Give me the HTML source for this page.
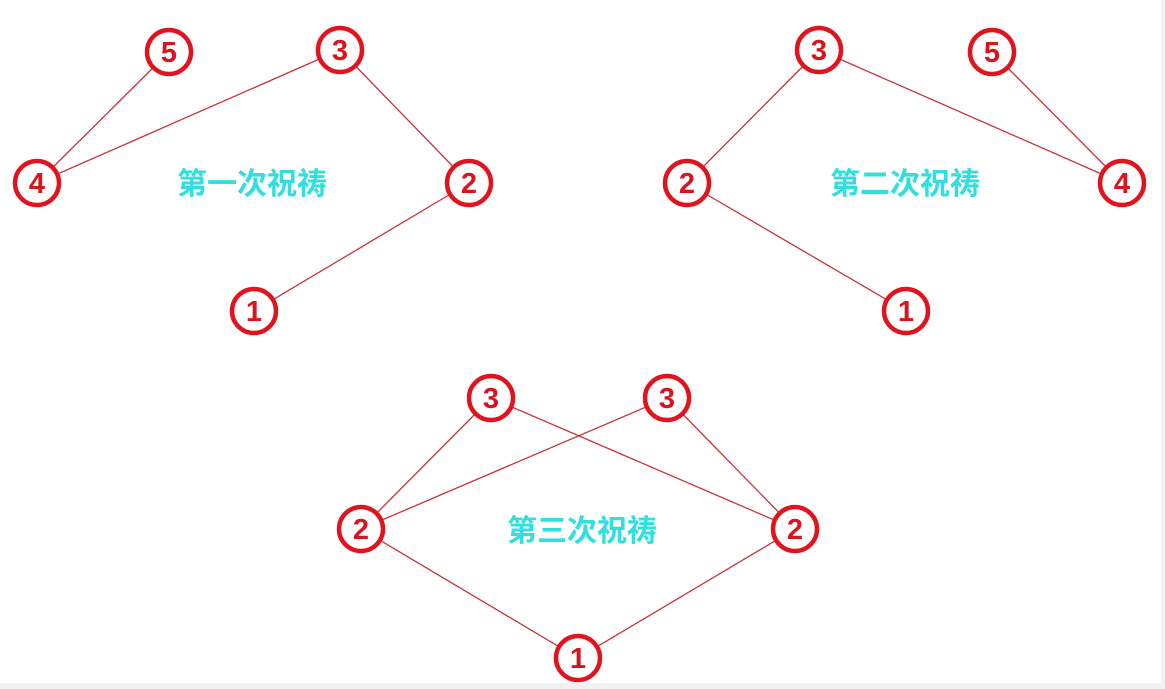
<!DOCTYPE html>
<html><head><meta charset="utf-8"><style>
html,body{margin:0;padding:0;background:#fff;}
svg{display:block;}
text{font-family:"Liberation Sans","Noto Sans CJK SC",sans-serif;font-weight:bold;}
</style></head><body>
<svg width="1165" height="689" viewBox="0 0 1165 689" xmlns="http://www.w3.org/2000/svg">
<rect x="0" y="0" width="1165" height="689" fill="#fff"/>
<rect x="1161" y="0" width="4" height="689" fill="#f2f2f2"/>
<rect x="0" y="683" width="1165" height="6" fill="#f2f2f2"/>
<g stroke="#c8323a" stroke-width="1.3">
<line x1="169" y1="52" x2="37" y2="183"/>
<line x1="340" y1="50" x2="37" y2="183"/>
<line x1="340" y1="50" x2="469" y2="183"/>
<line x1="469" y1="183" x2="254" y2="311"/>
<line x1="819" y1="50" x2="687" y2="183"/>
<line x1="819" y1="50" x2="1122" y2="183"/>
<line x1="992" y1="52" x2="1122" y2="183"/>
<line x1="687" y1="183" x2="906" y2="311"/>
<line x1="491" y1="398" x2="361" y2="529"/>
<line x1="491" y1="398" x2="795" y2="529"/>
<line x1="667" y1="398" x2="361" y2="529"/>
<line x1="667" y1="398" x2="795" y2="529"/>
<line x1="361" y1="529" x2="578" y2="658"/>
<line x1="795" y1="529" x2="578" y2="658"/>
</g>
<g fill="#fff" stroke="#e0141e" stroke-width="4.5">
<circle cx="169" cy="52" r="22"/><circle cx="340" cy="50" r="22"/><circle cx="37" cy="183" r="22"/><circle cx="469" cy="183" r="22"/><circle cx="254" cy="311" r="22"/>
<circle cx="819" cy="50" r="22"/><circle cx="992" cy="52" r="22"/><circle cx="687" cy="183" r="22"/><circle cx="1122" cy="183" r="22"/><circle cx="906" cy="311" r="22"/>
<circle cx="491" cy="398" r="22"/><circle cx="667" cy="398" r="22"/><circle cx="361" cy="529" r="22"/><circle cx="795" cy="529" r="22"/><circle cx="578" cy="658" r="22"/>
</g>
<g fill="#d8141e" font-size="29" text-anchor="middle">
<text x="169" y="62">5</text><text x="340" y="60">3</text><text x="37" y="193">4</text><text x="469" y="193">2</text><text x="254" y="321">1</text>
<text x="819" y="60">3</text><text x="992" y="62">5</text><text x="687" y="193">2</text><text x="1122" y="193">4</text><text x="906" y="321">1</text>
<text x="491" y="408">3</text><text x="667" y="408">3</text><text x="361" y="539">2</text><text x="795" y="539">2</text><text x="578" y="668">1</text>
</g>
<g fill="#33dede" font-size="30" text-anchor="middle">
<text x="252" y="194">第一次祝祷</text>
<text x="905" y="194">第二次祝祷</text>
<text x="582" y="541">第三次祝祷</text>
</g>
</svg>
</body></html>
